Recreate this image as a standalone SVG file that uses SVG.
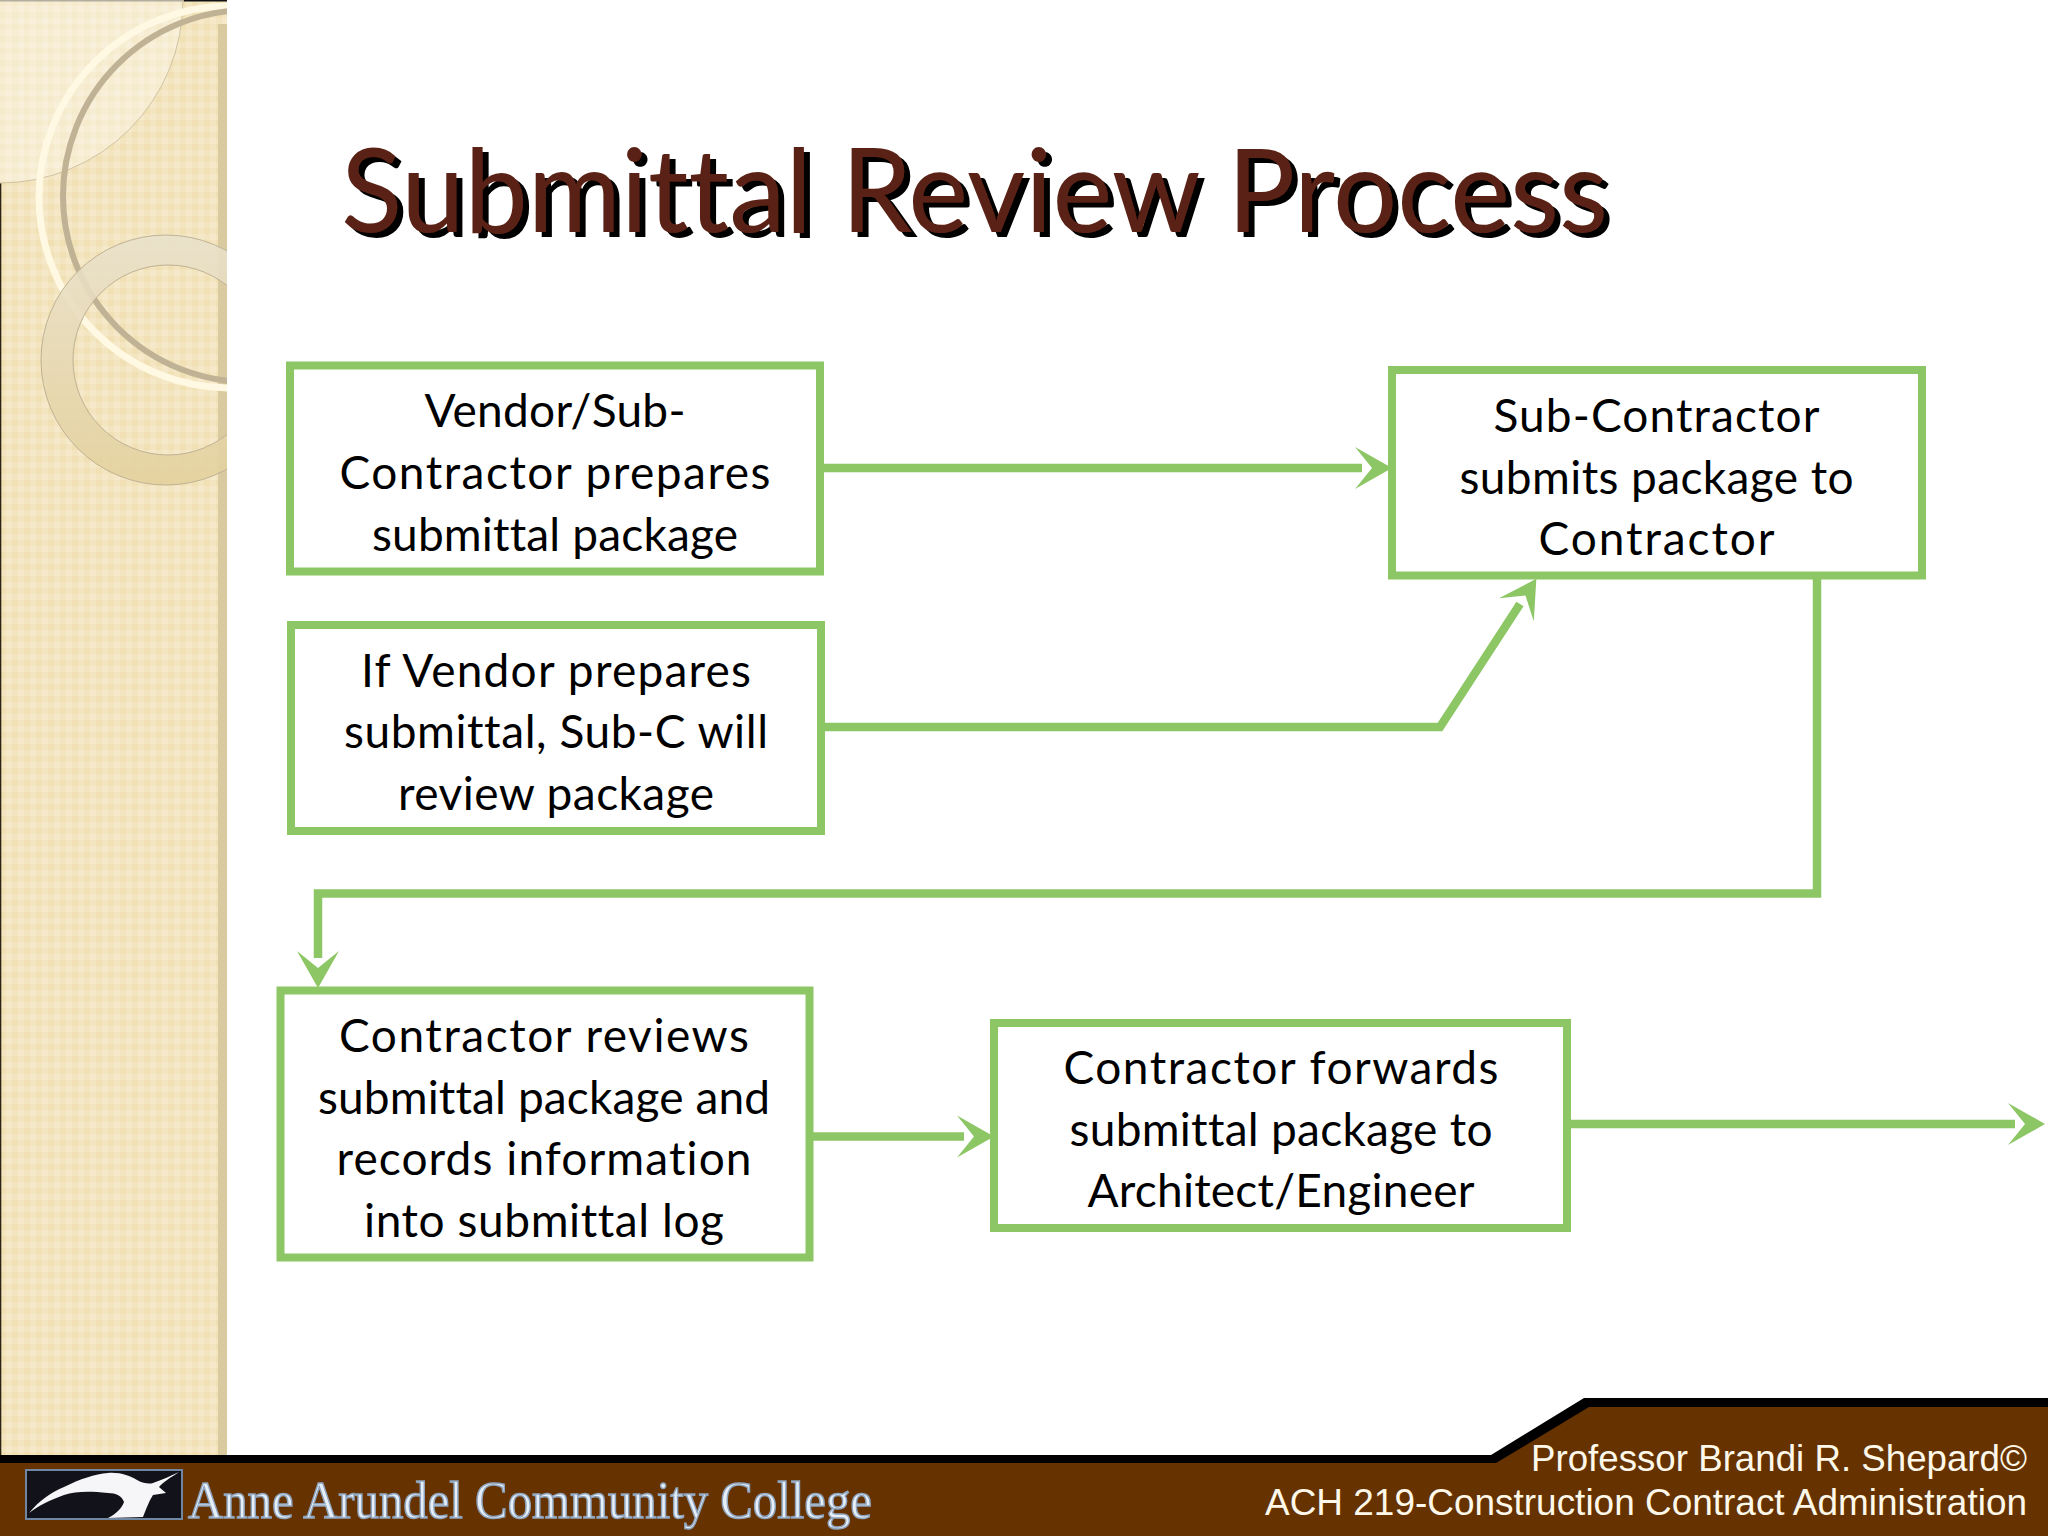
<svg xmlns="http://www.w3.org/2000/svg" width="2048" height="1536" viewBox="0 0 2048 1536">
<style>
.box{fill:#fff;stroke:#8cc665;stroke-width:8}
.lbl{font-family:"Lato","Noto Sans",sans-serif;font-size:46px;fill:#000;text-anchor:middle;font-variant-ligatures:none}
.conn{fill:none;stroke:#8cc665;stroke-width:8.500}
.foot{font-family:"Liberation Sans",Arial,sans-serif;font-size:36px;fill:#fdf8ea;text-anchor:end}
.ttl{font-family:"Lato","Noto Sans",sans-serif;font-size:117px;font-variant-ligatures:none}
</style>
<defs>
<pattern id="tex" width="12" height="12" patternUnits="userSpaceOnUse">
<rect width="12" height="12" fill="#f3e5bf"/>
<rect width="6" height="6" fill="#f0e0b3"/>
<rect x="6" y="6" width="6" height="6" fill="#f5e9c9"/>
</pattern>
<linearGradient id="ringg" x1="0" y1="0" x2="0" y2="1">
<stop offset="0" stop-color="#e9e1cc"/>
<stop offset="1" stop-color="#e3d09c"/>
</linearGradient>
<clipPath id="side"><rect x="0" y="0" width="227" height="1456"/></clipPath>
<filter id="sh" x="-5%" y="-20%" width="110%" height="140%"><feDropShadow dx="6" dy="5" stdDeviation="0" flood-color="#000"/></filter>
<marker id="arrow" markerUnits="userSpaceOnUse" markerWidth="37" markerHeight="42" viewBox="0 -21 37 42" refX="7" refY="0" orient="auto">
<path d="M0-21 37 0 0 21 17 0Z" fill="#8cc665"/>
</marker>
</defs>
<rect width="2048" height="1536" fill="#fff"/>
<g id="sidebar">
<rect x="0" y="0" width="227" height="1456" fill="url(#tex)"/>
<rect x="218" y="24" width="9" height="1432" fill="#d9caa0"/>
<rect x="0" y="183" width="1.300" height="1273" fill="#2a2312"/>
<rect x="0" y="0" width="184" height="1.500" fill="#8f8672"/>
<rect x="184" y="0" width="43" height="1.500" fill="#111"/>
<g clip-path="url(#side)">
<circle cx="0" cy="0" r="183" fill="#fff" fill-opacity=".32" stroke="#cfc3a2" stroke-width="1"/>
<circle cx="230" cy="197" r="191" fill="none" stroke="#fff8e2" stroke-width="7"/>
<circle cx="249" cy="196" r="186" fill="none" stroke="#bfb295" stroke-width="6"/>
<path d="M41 360a125 125 0 1 0 250 0a125 125 0 1 0-250 0ZM73 360a95 95 0 1 0 190 0a95 95 0 1 0-190 0Z" fill="url(#ringg)" fill-opacity=".88" fill-rule="evenodd" stroke="#bfb295" stroke-width="1"/>
</g>
</g>
<g id="footer">
<path d="M0 1455H1491L1584 1398H2048V1536H0Z" fill="#000"/>
<path d="M0 1463H1496L1589 1407H2048V1536H0Z" fill="#663300"/>
<rect x="26" y="1470" width="156" height="49" fill="#12121a" stroke="#6f87a3" stroke-width="2"/>
<path d="M29 1513C40 1500 50 1493 64 1487C80 1479 95 1474 108 1473C120 1472 130 1476 137 1480C144 1484 150 1484 153 1483C162 1480 170 1476 179 1472C170 1478 163 1482 159 1487L166 1493L153 1495C148 1503 146 1510 143 1517L108 1518C116 1514 122 1508 124 1502C122 1496 116 1493 108 1493C90 1491 76 1491 64 1495C50 1500 38 1506 29 1513Z" fill="#f6f6f8"/>
<text x="188" y="1518" font-family="Liberation Serif,serif" font-size="52" fill="#e6eff8" stroke="#8ea3bd" stroke-width="1.500" textLength="684" lengthAdjust="spacingAndGlyphs">Anne Arundel Community College</text>
<text class="foot" x="2027" y="1471" textLength="496" lengthAdjust="spacingAndGlyphs">Professor Brandi R. Shepard©</text>
<text class="foot" x="2027" y="1515" textLength="762" lengthAdjust="spacingAndGlyphs">ACH 219-Construction Contract Administration</text>
</g>
<g id="title">
<text class="ttl" x="341" y="232" fill="#5a2415" filter="url(#sh)" textLength="1267" lengthAdjust="spacingAndGlyphs">Submittal Review Process</text>
</g>
<g id="connectors">
<path class="conn" marker-end="url(#arrow)" d="M820 468H1362"/>
<path class="conn" marker-end="url(#arrow)" d="M823 727H1440L1520 604"/>
<path class="conn" marker-end="url(#arrow)" d="M1817 576V893.500H318V958"/>
<path class="conn" marker-end="url(#arrow)" d="M811 1136.500H964"/>
<path class="conn" marker-end="url(#arrow)" d="M1569 1124H2015"/>
</g>
<g id="node1">
<rect class="box" x="290" y="365.500" width="530" height="206"/>
<text class="lbl" x="555" y="427" textLength="261">Vendor/Sub-</text>
<text class="lbl" x="555" y="488.500" textLength="431">Contractor prepares</text>
<text class="lbl" x="555" y="550.500" textLength="366">submittal package</text>
</g>
<g id="node2">
<rect class="box" x="1392" y="370" width="530" height="205.500"/>
<text class="lbl" x="1656.500" y="432" textLength="326">Sub-Contractor</text>
<text class="lbl" x="1656.500" y="494" textLength="394">submits package to</text>
<text class="lbl" x="1656.500" y="555" textLength="236">Contractor</text>
</g>
<g id="node3">
<rect class="box" x="291" y="625" width="530" height="206"/>
<text class="lbl" x="556" y="687" textLength="390">If Vendor prepares</text>
<text class="lbl" x="556" y="748" textLength="424">submittal, Sub-C will</text>
<text class="lbl" x="556" y="810" textLength="316">review package</text>
</g>
<g id="node4">
<rect class="box" x="280.500" y="990.500" width="529" height="267"/>
<text class="lbl" x="544" y="1052" textLength="410">Contractor reviews</text>
<text class="lbl" x="544" y="1113.500" textLength="452">submittal package and</text>
<text class="lbl" x="544" y="1175" textLength="415">records information</text>
<text class="lbl" x="544" y="1236.500" textLength="360">into submittal log</text>
</g>
<g id="node5">
<rect class="box" x="994" y="1023" width="573" height="205"/>
<text class="lbl" x="1281" y="1084" textLength="435">Contractor forwards</text>
<text class="lbl" x="1281" y="1145.500" textLength="423">submittal package to</text>
<text class="lbl" x="1281" y="1207" textLength="387">Architect/Engineer</text>
</g>
</svg>
